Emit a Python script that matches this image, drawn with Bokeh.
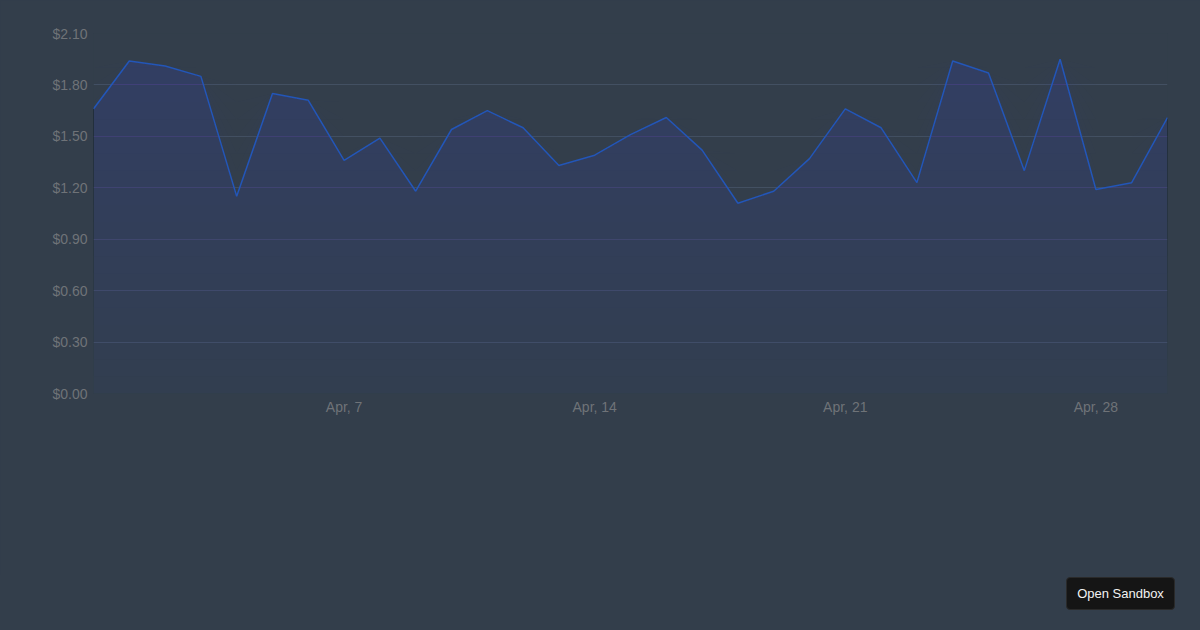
import numpy as np
import pandas as pd
from bokeh.plotting import figure
from bokeh.layouts import column
from bokeh.models import (FixedTicker, NumeralTickFormatter, DatetimeTickFormatter,
                          Range1d, Div)
from bokeh.embed import file_html
from bokeh.resources import INLINE

# ---- data ----
dates = pd.date_range("2024-03-31", "2024-04-30", freq="D")
prices = [1.66, 1.94, 1.91, 1.85, 1.15, 1.75, 1.71, 1.36, 1.49, 1.18,
          1.54, 1.65, 1.55, 1.33, 1.39, 1.51, 1.61, 1.42, 1.11, 1.18,
          1.37, 1.66, 1.55, 1.23, 1.94, 1.87, 1.30, 1.95, 1.19, 1.23, 1.61]
y_ticks = [0.0, 0.3, 0.6, 0.9, 1.2, 1.5, 1.8, 2.1]
grid_ticks = [0.3, 0.6, 0.9, 1.2, 1.5, 1.8]
tick_dates = ["2024-04-07", "2024-04-14", "2024-04-21", "2024-04-28"]

BG = "#333e4b"
LINE = "#2356b8"
TXT = "#6f7378"

vals = np.array(prices)
tick_ms = [pd.Timestamp(d).value / 1e6 for d in tick_dates]

p = figure(width=1200, height=575, x_axis_type="datetime",
           output_backend="svg", toolbar_location=None,
           background_fill_color=BG, border_fill_color=BG,
           min_border_left=93, min_border_right=33,
           min_border_top=33, min_border_bottom=182)
p.outline_line_color = None
p.x_range = Range1d(dates[0], dates[-1])
p.y_range = Range1d(0, 2.1)

# gradient-like fill: base layer plus stacked thin layers above thresholds
p.varea(x=dates, y1=np.zeros(len(vals)), y2=vals, fill_color=LINE, fill_alpha=0.05)
for c in np.linspace(0.1, 2.0, 20):
    p.varea(x=dates, y1=np.full(len(vals), c), y2=np.maximum(vals, c),
            fill_color=LINE, fill_alpha=0.016)

p.line(dates, vals, line_color=LINE, line_width=1.5)

# axes
p.yaxis.ticker = FixedTicker(ticks=y_ticks)
p.yaxis.formatter = NumeralTickFormatter(format="$0.00")
p.xaxis.ticker = FixedTicker(ticks=tick_ms)
p.xaxis.formatter = DatetimeTickFormatter(days="%b, %-d", months="%b, %-d")
for ax in (p.xaxis, p.yaxis):
    ax.axis_line_color = None
    ax.major_tick_line_color = None
    ax.minor_tick_line_color = None
    ax.major_tick_out = 0
    ax.major_tick_in = 0
    ax.minor_tick_out = 0
    ax.major_label_text_color = TXT
    ax.major_label_text_font = "Liberation Sans"
    ax.major_label_text_font_size = "14px"
p.yaxis.major_label_standoff = 6
p.xaxis.major_label_standoff = 5

p.xgrid.grid_line_color = None
p.ygrid.ticker = FixedTicker(ticks=grid_ticks)
p.ygrid.grid_line_color = "#435062"
p.ygrid.grid_line_width = 1

btn = Div(
    text=('<div style="position:absolute;left:1061px;top:-3px;width:109px;height:33px;'
          'box-sizing:border-box;background:#151515;border:1px solid #2a2a2a;'
          'border-radius:4px;color:#f2f2f2;font-family:\'Liberation Sans\',Arial,sans-serif;'
          'font-size:13px;line-height:31px;text-align:center;">Open Sandbox</div>'),
    width=1200, height=55,
    styles={"background-color": BG, "position": "relative"})

layout = column(p, btn, spacing=0, styles={"background-color": BG})

html = file_html(layout, INLINE)
html = html.replace("<head>", "<head><style>html,body{background:%s;}</style>" % BG, 1)
open("out.html", "w").write(html)
